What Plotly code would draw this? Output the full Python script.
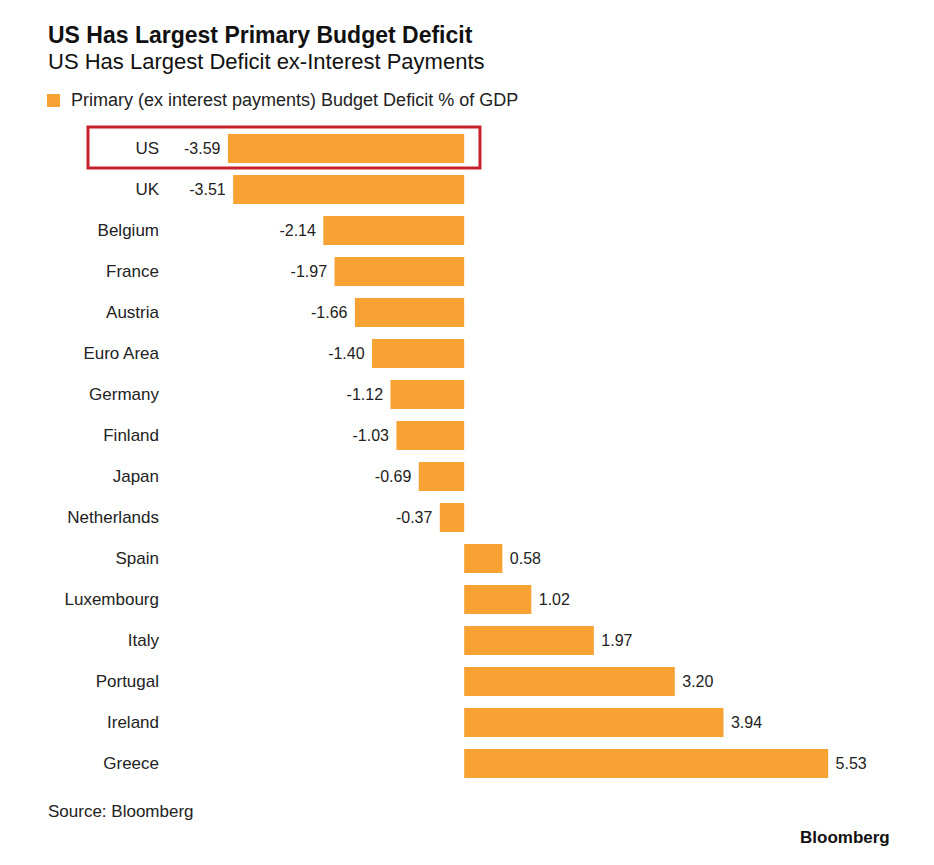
import plotly.graph_objects as go

# values
countries = ["US", "UK", "Belgium", "France", "Austria", "Euro Area", "Germany", "Finland",
             "Japan", "Netherlands", "Spain", "Luxembourg", "Italy", "Portugal", "Ireland", "Greece"]
deficit = [-3.59, -3.51, -2.14, -1.97, -1.66, -1.40, -1.12, -1.03,
           -0.69, -0.37, 0.58, 1.02, 1.97, 3.20, 3.94, 5.53]

bar_color = "#f7a232"
font_family = "Liberation Sans, Arial, sans-serif"

# a little padding between bar end and its value label
labels = []
for v in deficit:
    if v < 0:
        labels.append("%.2f\u00a0" % v)
    else:
        labels.append("\u00a0%.2f" % v)

fig = go.Figure()
fig.add_trace(go.Bar(
    x=deficit,
    y=countries,
    orientation="h",
    marker=dict(color=bar_color, line=dict(width=0)),
    text=labels,
    textposition="outside",
    textfont=dict(size=16, color="#222222", family=font_family),
    cliponaxis=False,
    showlegend=False,
))

fig.update_layout(
    width=934,
    height=865,
    margin=dict(l=160, r=50, t=120, b=89),
    paper_bgcolor="white",
    plot_bgcolor="white",
    bargap=0.29,
    font=dict(family=font_family, color="#222222"),
    xaxis=dict(range=[-4.5, 6.5], visible=False, fixedrange=True),
    yaxis=dict(autorange="reversed", showgrid=False, showline=False, ticks="",
               tickfont=dict(size=17, color="#222222"), ticklabelstandoff=8),
)

# title and subtitle
fig.add_annotation(text="<b>US Has Largest Primary Budget Deficit</b>", xref="paper", yref="paper",
                   x=-0.168, y=1.0, xanchor="left", yanchor="bottom", yshift=78,
                   showarrow=False, font=dict(size=23, color="#111111"))
fig.add_annotation(text="US Has Largest Deficit ex-Interest Payments", xref="paper", yref="paper",
                   x=-0.168, y=1.0, xanchor="left", yanchor="bottom", yshift=52,
                   showarrow=False, font=dict(size=22, color="#111111"))

# legend key
fig.add_shape(type="rect", xref="paper", yref="paper", x0=-0.1671, x1=-0.1492, y0=1.032, y1=1.0518,
              fillcolor=bar_color, line=dict(width=0))
fig.add_annotation(text="Primary (ex interest payments) Budget Deficit % of GDP", xref="paper", yref="paper",
                   x=-0.1367, y=1.0427, xanchor="left", yanchor="middle",
                   showarrow=False, font=dict(size=18, color="#222222"))

# red highlight box around the US row
fig.add_shape(type="rect", xref="paper", yref="paper", x0=-0.1105, x1=0.4309, y0=0.939, y1=1.0015,
              line=dict(color="#c8202c", width=3), fillcolor="rgba(0,0,0,0)")

# footer
fig.add_annotation(text="Source: Bloomberg", xref="paper", yref="paper",
                   x=-0.168, y=0.0, xanchor="left", yanchor="top", yshift=-16,
                   showarrow=False, font=dict(size=17, color="#222222"))
fig.add_annotation(text="<b>Bloomberg</b>", xref="paper", yref="paper",
                   x=1.0, y=0.0, xanchor="left", yanchor="top", yshift=-42, xshift=-94,
                   showarrow=False, font=dict(size=17, color="#111111"))

fig.write_html("out.html")
